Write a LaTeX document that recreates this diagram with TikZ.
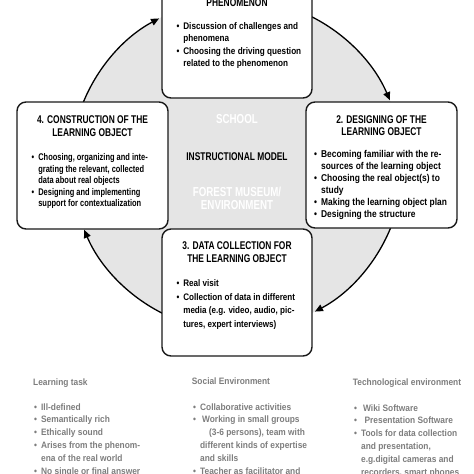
\documentclass[tikz,border=0pt]{standalone}
\usepackage{fontspec}
\setmainfont{Liberation Sans}
\newfontfamily\titlef{Liberation Sans}[FakeStretch=0.75]
\newfontfamily\bodyf{Liberation Sans}[FakeStretch=0.85]
\newfontfamily\bodyfn{Liberation Sans}[FakeStretch=0.77]
\newfontfamily\lowf{Liberation Sans}[FakeStretch=0.9]
\usetikzlibrary{arrows.meta}
\definecolor{circgray}{RGB}{229,229,229}
\definecolor{lowgray}{RGB}{125,125,125}
\definecolor{boxline}{RGB}{25,25,25}
\newcommand{\bl}{\textbullet}
\newcommand{\titleblock}[2]{{\titlef\bfseries\fontsize{11.2}{#1}\selectfont\begin{tabular}[t]{@{}c@{}}#2\end{tabular}}}
\newcommand{\bodyblock}[3]{{\bodyf\bfseries\fontsize{#1}{#2}\selectfont\begin{tabular}[t]{@{}l@{\hspace{4pt}}l@{}}#3\end{tabular}}}
\newcommand{\bodyblockn}[3]{{\bodyfn\bfseries\fontsize{#1}{#2}\selectfont\begin{tabular}[t]{@{}l@{\hspace{4pt}}l@{}}#3\end{tabular}}}
\newcommand{\lowblock}[1]{{\lowf\bfseries\fontsize{9.3}{12.8}\selectfont\begin{tabular}[t]{@{}l@{\hspace{4pt}}l@{}}#1\end{tabular}}}
\tikzset{
  box/.style={draw=boxline, line width=1.4pt, fill=white, rounded corners=9pt, inner sep=0pt},
  cyc/.style={line width=1.3pt, -{Triangle[length=8pt,width=7pt]}},
  txt/.style={inner sep=0pt, anchor=base},
  lst/.style={inner sep=0pt, anchor=base west},
  hdr/.style={inner sep=0pt, anchor=base west, text=lowgray, font=\lowf\bfseries\fontsize{9.3}{12}\selectfont},
  mid/.style={inner sep=0pt, anchor=base, font=\titlef\bfseries\fontsize{11.2}{12.7}\selectfont},
  wmid/.style={inner sep=0pt, anchor=base, text=white, font=\titlef\bfseries\fontsize{13}{12.7}\selectfont}
}
\begin{document}
\begin{tikzpicture}[x=1pt,y=1pt]
\useasboundingbox (0,0) rectangle (474,-474);
\clip (0,0) rectangle (474,-474);
\coordinate (c) at (237,-165);
\fill[circgray] (c) circle (166pt);
% arc start coordinates
\path (c) ++(159:166pt) coordinate (s1);
\path (c) ++(64:166pt) coordinate (s2);
\path (c) ++(-21:166pt) coordinate (s3);
\path (c) ++(-116:166pt) coordinate (s4);
\draw[cyc] (s1) arc[start angle=159, end angle=118, radius=166pt];
\draw[cyc] (s2) arc[start angle=64, end angle=23, radius=166pt];
\draw[cyc] (s3) arc[start angle=-21, end angle=-62, radius=166pt];
\draw[cyc] (s4) arc[start angle=-116, end angle=-157, radius=166pt];
% boxes
\node[box, minimum width=150pt, minimum height=143pt] (b1) at (237,-26.5) {};
\node[box, minimum width=151pt, minimum height=126pt] (b2) at (381.5,-165) {};
\node[box, minimum width=150pt, minimum height=127pt] (b3) at (237,-292.5) {};
\node[box, minimum width=151pt, minimum height=127pt] (b4) at (92.5,-165.5) {};
% centre texts
\node[wmid] (school) at (237,-123.5) {SCHOOL};
\node[mid] (im) at (237,-160.7) {INSTRUCTIONAL MODEL};
\node[wmid] (forest) at (237,-196.8) {\begin{tabular}[t]{@{}c@{}}FOREST MUSEUM/\\ENVIRONMENT\end{tabular}};
% box 1
\node[txt] (t1) at (237,-6) {\titleblock{13}{PHENOMENON}};
\node[lst] (l1) at (176.3,-29.5) {\bodyblock{9.6}{12.3}{\bl & Discussion of challenges and\\ & phenomena\\ \bl & Choosing the driving question\\ & related to the phenomenon}};
% box 2
\node[txt] (t2) at (381.5,-123) {\titleblock{12.8}{2. DESIGNING OF THE\\LEARNING OBJECT}};
\node[lst] (l2) at (314,-157.5) {\bodyblock{9.9}{12}{\bl & Becoming familiar with the re-\\ & sources of the learning object\\ \bl & Choosing the real object(s) to\\ & study\\ \bl & Making the learning object plan\\ \bl & Designing the structure}};
% box 3
\node[txt] (t3) at (237,-249.5) {\titleblock{13.3}{3. DATA COLLECTION FOR\\THE LEARNING OBJECT}};
\node[lst] (l3) at (176.3,-286.5) {\bodyblock{9.5}{13.5}{\bl & Real visit\\ \bl & Collection of data in different\\ & media (e.g. video, audio, pic-\\ & tures, expert interviews)}};
% box 4
\node[txt] (t4) at (92.5,-123) {\titleblock{13.5}{4. CONSTRUCTION OF THE\\LEARNING OBJECT}};
\node[lst] (l4) at (31.5,-160.5) {\bodyblockn{9.7}{11.6}{\bl & Choosing, organizing and inte-\\ & grating the relevant, collected\\ & data about real objects\\ \bl & Designing and implementing\\ & support for contextualization}};
% bottom columns
\node[hdr] (h1) at (33,-385) {Learning task};
\node[lst, text=lowgray] (m1) at (34,-410) {\lowblock{\bl & Ill-defined\\ \bl & Semantically rich\\ \bl & Ethically sound\\ \bl & Arises from the phenom-\\ & ena of the real world\\ \bl & No single or final answer}};
\node[hdr] (h2) at (191.7,-384) {Social Environment};
\node[lst, text=lowgray] (m2) at (193,-410) {\lowblock{\bl & Collaborative activities\\ \bl & \hspace{2pt}Working in small groups\\ & \hspace{9pt}(3-6 persons), team with\\ & different kinds of expertise\\ & and skills\\ \bl & Teacher as facilitator and}};
\node[hdr] (h3) at (352.7,-385) {Technological environment};
\node[lst, text=lowgray] (m3) at (354,-411) {\lowblock{\bl & \hspace{2pt}Wiki Software\\ \bl & \hspace{3.5pt}Presentation Software\\ \bl & Tools for data collection\\ & and presentation,\\ & e.g.digital cameras and\\ & recorders, smart phones}};
\end{tikzpicture}
\end{document}
